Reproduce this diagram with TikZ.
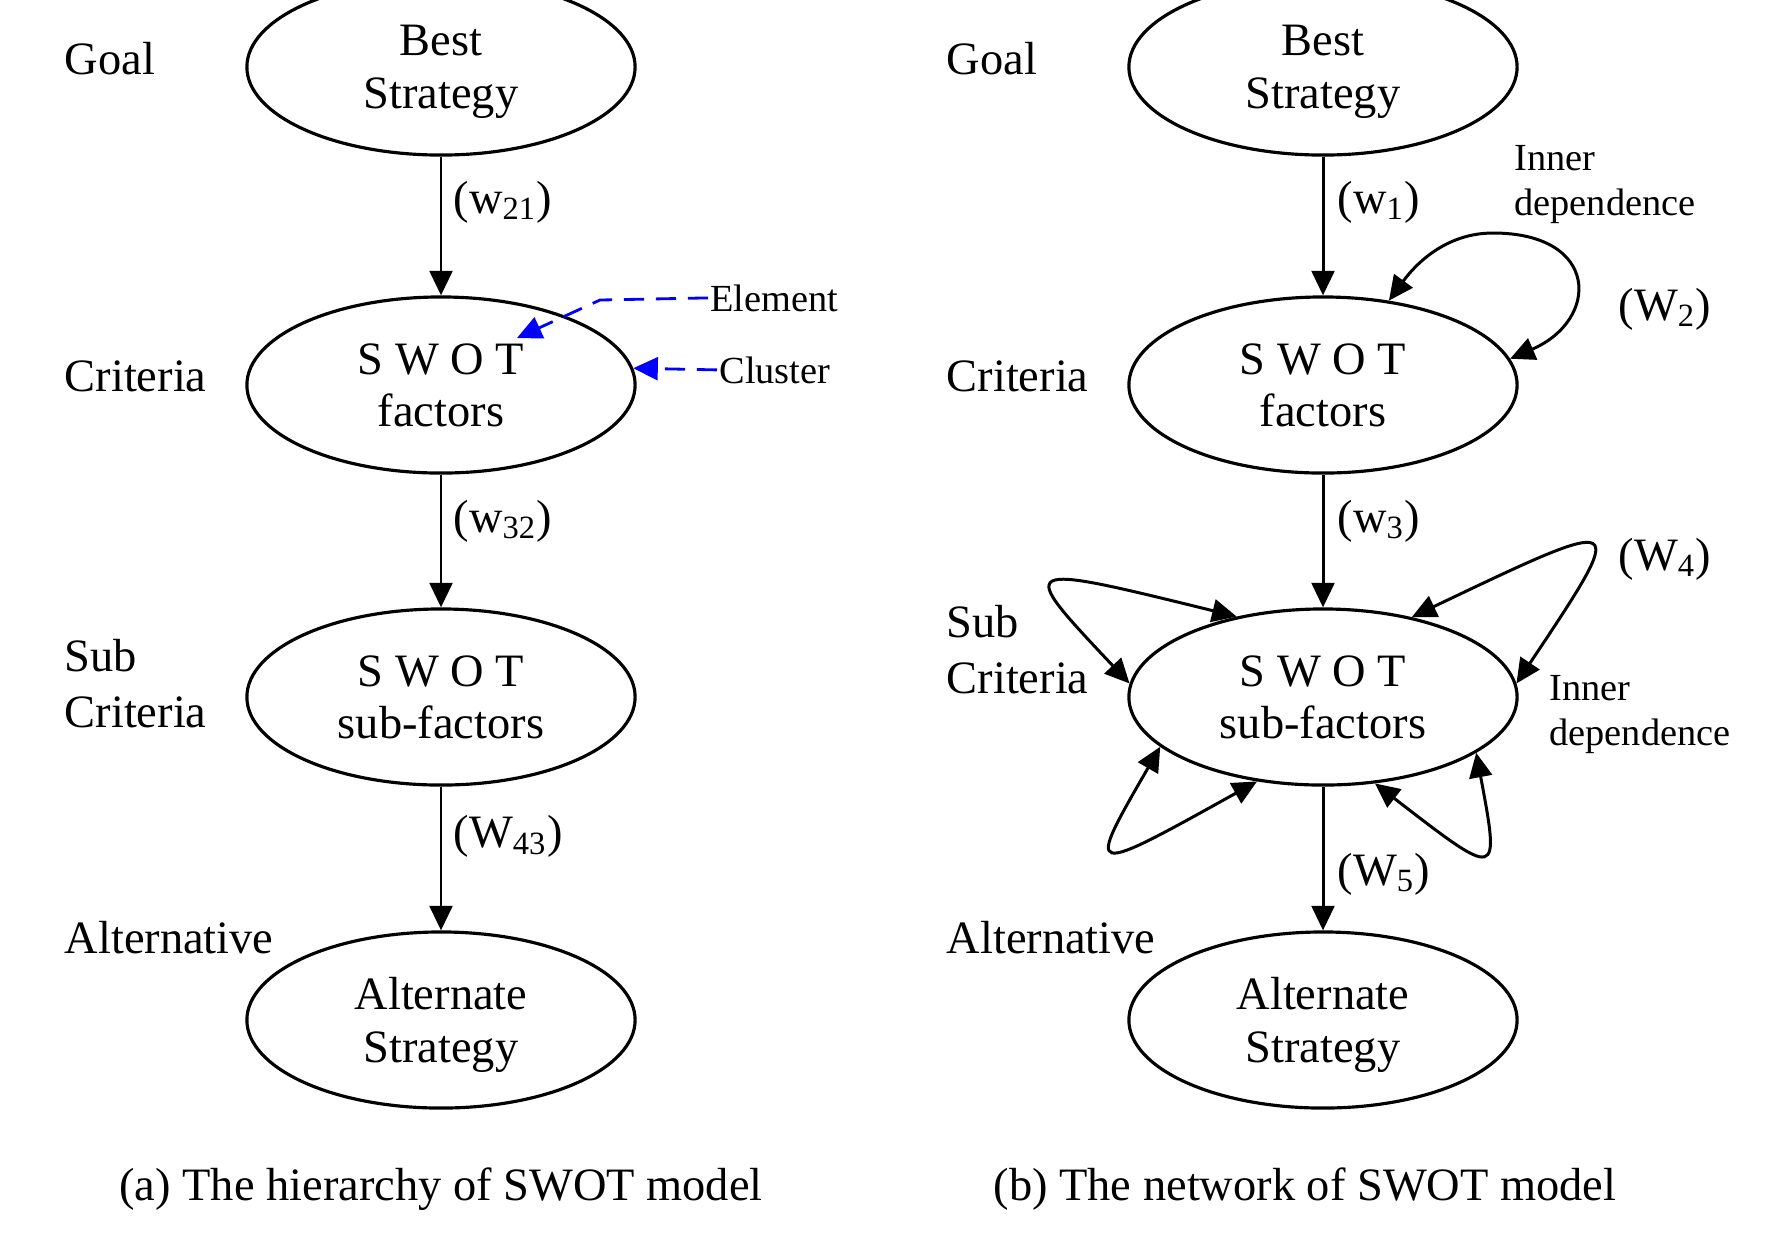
\documentclass[tikz,border=0pt]{standalone}
\usepackage{fontspec}
\setmainfont{Liberation Serif}
\usetikzlibrary{shapes.geometric,arrows.meta}

\begin{document}
\begin{tikzpicture}[x=0.01cm, y=-0.01cm,
    >={Triangle[length=7pt,width=6.5pt]},
    every node/.style={font=\fontsize{13.2}{15}\selectfont},
    level/.style={ellipse, draw, line width=0.9pt, minimum width=3.88cm,
      minimum height=1.76cm, inner sep=0pt, align=center, text depth=-3.5pt},
    tag/.style={anchor=base west, inner sep=0pt, align=left},
    small/.style={anchor=base west, inner sep=0.5pt, align=left,
      font=\fontsize{10.9}{12.8}\selectfont},
    link/.style={->, line width=0.85pt},
    dep/.style={<->, line width=0.85pt},
    hint/.style={->, blue, line width=0.8pt, dash pattern=on 5.7pt off 3.4pt}]
    \useasboundingbox (0,0) rectangle (1772,1232);
    \clip (0,0) rectangle (1772,1232);

    % \draw [help lines, step=100] (0,0) grid (1772,1232);
    \node [level] (bestL) at (441,67) {Best\\Strategy};
    \node [level] (factL) at (441,385) {S W O T\\factors};
    \node [level] (subL) at (441,697) {S W O T\\sub-factors};
    \node [level] (altL) at (441,1020) {Alternate\\Strategy};

    \node [tag] (goalL) at (64,74) {Goal};
    \node [tag] (critL) at (64,391) {Criteria};
    \node [tag] (scritL) at (64,727) {Sub\\[0.7pt]Criteria};
    \node [tag] (altnL) at (64,953) {Alternative};

    \draw [link] (bestL) -- (factL);
    \draw [link] (factL) -- (subL);
    \draw [link] (subL) -- (altL);
    \node [tag] (w21) at (453,213) {(w\textsubscript{21})};
    \node [tag] (w32) at (453,532) {(w\textsubscript{32})};
    \node [tag] (w43) at (453,847) {(W\textsubscript{43})};

    \node [small] (elem) at (708,311) {Element};
    \node [small] (clus) at (717,383) {Cluster};
    \coordinate (ebend) at (600,300);
    \coordinate (etip) at (517,338);
    \draw [hint] (elem.west) -- (ebend) -- (etip);
    \draw [hint] (clus.west) -- (factL.5);

    \node [level] (bestR) at (1323,67) {Best\\Strategy};
    \node [level] (factR) at (1323,385) {S W O T\\factors};
    \node [level] (subR) at (1323,697) {S W O T\\sub-factors};
    \node [level] (altR) at (1323,1020) {Alternate\\Strategy};

    \node [tag] (goalR) at (946,74) {Goal};
    \node [tag] (critR) at (946,391) {Criteria};
    \node [tag] (scritR) at (946,693) {Sub\\[0.7pt]Criteria};
    \node [tag] (altnR) at (946,953) {Alternative};

    \draw [link] (bestR) -- (factR);
    \draw [link] (factR) -- (subR);
    \draw [link] (subR) -- (altR);
    \node [tag] (w1) at (1337,213) {(w\textsubscript{1})};
    \node [tag] (w3) at (1337,532) {(w\textsubscript{3})};
    \node [tag] (w5) at (1337,885) {(W\textsubscript{5})};
    \node [tag] (w2) at (1618,320) {(W\textsubscript{2})};
    \node [tag] (w4) at (1618,570) {(W\textsubscript{4})};

    \node [small] (innerA) at (1512,215) {Inner\\dependence};
    \node [small] (innerB) at (1547,745) {Inner\\dependence};

    \coordinate (ltop) at (1493,233);
    \draw [dep] (factR.52.4) .. controls (1415,265) and (1445,233) .. (ltop)
      .. controls (1600,233) and (1600,320) .. (factR.8.4);
    \draw [dep] (subR.137.7) .. controls (1015,562) .. (subR.176.4);
    \draw [dep] (subR.42.6) .. controls (1630,513) .. (subR.4);
    \draw [dep] (subR.197.4) .. controls (1085,877) .. (subR.232.5);
    \draw [dep] (subR.340.4) .. controls (1500,880) .. (subR.301.5);

    \node [anchor=base] (capA) at (441,1200) {(a) The hierarchy of SWOT model};
    \node [anchor=base] (capB) at (1305,1200) {(b) The network of SWOT model};
  \end{tikzpicture}
\end{document}
